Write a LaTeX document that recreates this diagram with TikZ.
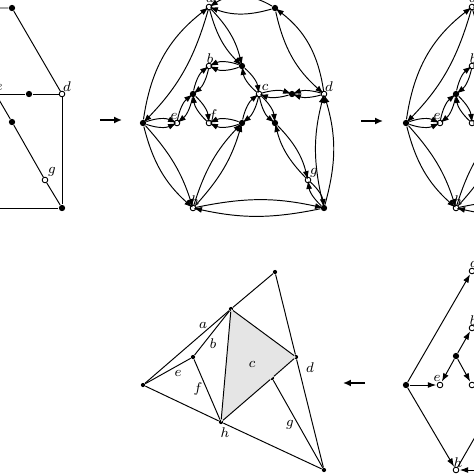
\documentclass[tikz,border=0pt]{standalone}
\usetikzlibrary{arrows.meta}
\tikzset{
 op/.style={circle,draw,fill=white,inner sep=0pt,minimum size=3.2pt,line width=0.5pt},
 fd/.style={circle,fill,inner sep=0pt,minimum size=3.6pt},
 sd/.style={circle,fill,inner sep=0pt,minimum size=2.4pt},
 lab/.style={inner sep=0pt,font=\fontsize{8}{9}\selectfont},
 ar/.style={-{Latex[length=4.8pt,width=3.4pt]},shorten >=0.3pt},
 bigar/.style={line width=1.2pt,-{Latex[length=4.5pt,width=4pt]}},
}
\newcommand{\dualnodes}{%
 \node[op] (a) at (209,-7) {};
 \node[fd] (t) at (275,-8) {};
 \node[op] (b) at (209,-66) {};
 \node[fd] (p) at (242,-66) {};
 \node[op] (c) at (259,-94) {};
 \node[fd] (q) at (292,-94) {};
 \node[op] (d) at (324,-94) {};
 \node[fd] (m) at (193,-94) {};
 \node[fd] (l) at (143,-123) {};
 \node[op] (e) at (177,-123) {};
 \node[op] (f) at (209,-123) {};
 \node[fd] (r) at (242,-123) {};
 \node[fd] (s) at (275,-123) {};
 \node[op] (g) at (308,-180) {};
 \node[op] (h) at (193,-208) {};
 \node[fd] (z) at (324,-208) {};
 \node[lab] (la) at (210,1) {$a$};
 \node[lab] (lb) at (210,-59) {$b$};
 \node[lab] (lc) at (265,-87) {$c$};
 \node[lab] (ld) at (329,-87) {$d$};
 \node[lab] (le) at (174,-116) {$e$};
 \node[lab] (lf) at (213,-116) {$f$};
 \node[lab] (lg) at (314,-173) {$g$};
 \node[lab] (lh) at (195,-201) {$h$};
}
\newcommand{\dualarcs}{%
 \draw[ar] (t) to[bend right=32] (a);
 \draw[ar] (t) to[bend left=18] (a);
 \draw[ar] (l) to[bend left=22] (a);
 \draw[ar] (a) to[bend left=14] (l);
 \draw[ar] (t) to[bend right=18] (d);
 \draw[ar] (d) to[bend right=22] (t);
 \draw[ar] (z) to[bend left=14] (d);
 \draw[ar] (z) to[bend right=16] (d);
 \draw[ar] (h) to[bend left=12] (z);
 \draw[ar] (z) to[bend left=12] (h);
 \draw[ar] (l) to[bend left=12] (h);
 \draw[ar] (l) to[bend right=17] (h);
 \draw[ar] (a) to[bend left=15] (p);
 \draw[ar] (a) to[bend right=15] (p);
 \draw[ar] (p) to[bend left=22] (b);
 \draw[ar] (p) to[bend right=22] (b);
 \draw[ar] (b) to[bend left=20] (m);
 \draw[ar] (m) to[bend left=20] (b);
 \draw[ar] (p) to[bend left=20] (c);
 \draw[ar] (c) to[bend left=20] (p);
 \draw[ar] (c) to[bend left=18] (q);
 \draw[ar] (q) to[bend left=18] (c);
 \draw[ar] (d) to[bend left=18] (q);
 \draw[ar] (d) to[bend right=18] (q);
 \draw[ar] (m) to[bend left=20] (e);
 \draw[ar] (e) to[bend left=20] (m);
 \draw[ar] (m) to[bend left=20] (f);
 \draw[ar] (f) to[bend left=20] (m);
 \draw[ar] (l) to[bend left=22] (e);
 \draw[ar] (l) to[bend right=22] (e);
 \draw[ar] (r) to[bend left=22] (f);
 \draw[ar] (r) to[bend right=22] (f);
 \draw[ar] (r) to[bend left=20] (c);
 \draw[ar] (c) to[bend left=20] (r);
 \draw[ar] (c) to[bend left=20] (s);
 \draw[ar] (c) to[bend right=20] (s);
 \draw[ar] (s) to[bend left=15] (g);
 \draw[ar] (g) to[bend left=15] (s);
 \draw[ar] (g) to[bend left=20] (z);
 \draw[ar] (z) to[bend left=20] (g);
 \draw[ar] (h) to[bend left=13] (r);
 \draw[ar] (h) to[bend right=13] (r);
}
\begin{document}
\begin{tikzpicture}[x=0.02cm,y=0.02cm,line width=0.55pt]
\useasboundingbox (0,0) rectangle (474,-474);
% ---------- top-left panel
\coordinate (A0) at (-10,-8);
\node[fd] (A1) at (12,-8) {};
\node[op] (D1) at (62,-94) {};
\coordinate (E0) at (-10,-94);
\node[fd] (E1) at (29,-94) {};
\node[fd] (F1) at (62,-208) {};
\coordinate (F0) at (-10,-208);
\coordinate (G0) at (-2,-98);
\node[fd] (G1) at (12,-122) {};
\node[op] (G2) at (45,-180) {};
\draw (A0) -- (A1) -- (D1);
\draw (E0) -- (E1) -- (D1);
\draw (D1) -- (F1);
\draw (G0) -- (G1) -- (G2) -- (F1);
\draw (F0) -- (F1);
\node[lab] (ld1) at (67,-87) {$d$};
\node[lab] (lg1) at (52,-172) {$g$};
\node[lab] (le1) at (-1,-87) {$e$};
% ---------- panel arrows
\coordinate (r1s) at (100,-120); \coordinate (r1e) at (122,-120);
\coordinate (r2s) at (361,-121); \coordinate (r2e) at (383,-121);
\coordinate (r3s) at (365,-383); \coordinate (r3e) at (343,-383);
\draw[bigar] (r1s) -- (r1e);
\draw[bigar] (r2s) -- (r2e);
\draw[bigar] (r3s) -- (r3e);
% ---------- middle graph
\begin{scope}[name prefix=M-]
 \dualnodes
 \dualarcs
\end{scope}
% ---------- right graph
\begin{scope}[shift={(263,0)},name prefix=R-]
 \dualnodes
 \dualarcs
\end{scope}
% ---------- bottom-middle panel
\node[sd] (BL) at (143,-385) {};
\node[sd] (BT) at (275,-272) {};
\node[sd] (BA) at (231,-309) {};
\node[sd] (BD) at (296,-357) {};
\node[sd] (BH) at (221,-422) {};
\node[sd] (BZ) at (324,-470) {};
\node[sd] (BE) at (193,-357) {};
\node[sd] (BG) at (272,-378) {};
\fill[black!10] (BA.center) -- (BD.center) -- (BH.center) -- cycle;
\draw (BL) -- (BA) -- (BT);
\draw (BL) -- (BH) -- (BZ);
\draw (BT) -- (BD) -- (BZ);
\draw (BA) -- (BD);
\draw (BA) -- (BH);
\draw (BH) -- (BG) -- (BD);
\draw (BG) -- (BZ);
\draw (BL) -- (BE);
\draw (BE) -- (BA);
\draw (BE) -- (BH);
\node[lab] (bla) at (203,-325) {$a$};
\node[lab] (blb) at (213,-344) {$b$};
\node[lab] (blc) at (252,-364) {$c$};
\node[lab] (bld) at (310,-368) {$d$};
\node[lab] (ble) at (178,-373) {$e$};
\node[lab] (blf) at (198,-389) {$f$};
\node[lab] (blg) at (290,-425) {$g$};
\node[lab] (blh) at (225,-433) {$h$};
% ---------- bottom-right tree
\begin{scope}[shift={(263,-262)},name prefix=T-]
 \node[op] (a) at (209,-9) {};
 \node[op] (b) at (209,-66) {};
 \node[fd] (m) at (193,-94) {};
 \node[fd] (l) at (143,-123) {};
 \node[op] (e) at (177,-123) {};
 \node[op] (f) at (209,-123) {};
 \node[op] (h) at (193,-208) {};
 \coordinate (r) at (242,-123);
 \coordinate (z) at (324,-208);
 \node[lab] (la) at (211,-2) {$a$};
 \node[lab] (lb) at (210,-59) {$b$};
 \node[lab] (le) at (174,-116) {$e$};
 \node[lab] (lh) at (195,-201) {$h$};
 \draw[ar] (l) -- (a);
 \draw[ar] (l) -- (e);
 \draw[ar] (l) -- (h);
 \draw[ar] (m) -- (b);
 \draw[ar] (m) -- (e);
 \draw[ar] (m) -- (f);
 \draw[ar] (z) -- (h);
 \draw[ar] (h) -- (r);
\end{scope}
\end{tikzpicture}
\end{document}
